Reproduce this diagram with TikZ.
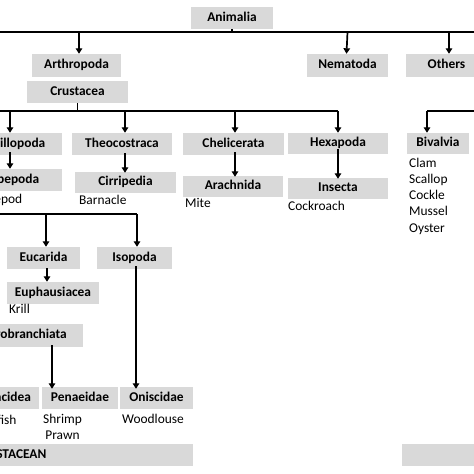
\documentclass[tikz,border=0pt]{standalone}
\usepackage{fontspec}
\setmainfont{Carlito}
\usetikzlibrary{arrows.meta}
\definecolor{boxgray}{HTML}{D9D9D9}
\begin{document}
\begin{tikzpicture}[x=1pt,y=-1pt,
  box/.style={fill=boxgray,inner sep=0pt,font=\fontsize{13.4}{16}\selectfont\bfseries,
    text height=9.5pt,text depth=3pt},
  lbl/.style={inner sep=0pt,anchor=west,font=\fontsize{13.4}{16.2}\selectfont,
    text height=9.5pt,text depth=3pt},
  conn/.style={line width=1.7pt},
  arr/.style={line width=1.7pt,-{Triangle[length=5.5pt,width=6.5pt]}}]
\path[use as bounding box] (0,0) rectangle (474,474);
\clip (0,0) rectangle (474,474);
\fill[white] (0,0) rectangle (474,474);
% top level
\node[box,minimum width=82pt,minimum height=22pt] (anim) at (232,18) {Animalia};
\node[box,minimum width=89pt,minimum height=23pt] (arth) at (76.5,65.5) {Arthropoda};
\node[box,minimum width=101pt,minimum height=22pt] (crus) at (77.5,92) {Crustacea};
\node[box,minimum width=81pt,minimum height=23pt] (nema) at (347.5,65.5) {Nematoda};
\node[box,minimum width=81pt,minimum height=23pt] (oth) at (446.5,65.5) {Others};
% crustacea level
\node[box,minimum width=103pt,minimum height=22pt] (maxi) at (10.5,144) {Maxillopoda};
\node[box,minimum width=102pt,minimum height=22pt] (cope) at (11,180) {Copepoda};
\node[box,minimum width=100pt,minimum height=22pt] (theo) at (122,144) {Theocostraca};
\node[box,minimum width=101pt,minimum height=21pt] (cirr) at (125.5,182.5) {Cirripedia};
\node[box,minimum width=101pt,minimum height=22pt] (chel) at (233.5,144) {Chelicerata};
\node[box,minimum width=100pt,minimum height=21pt] (arac) at (233,186.5) {Arachnida};
\node[box,minimum width=100pt,minimum height=21pt] (hexa) at (338,143.5) {Hexapoda};
\node[box,minimum width=100pt,minimum height=21pt] (inse) at (338,188.5) {Insecta};
\node[box,minimum width=62pt,minimum height=21pt] (biva) at (438,143.5) {Bivalvia};
% lower crustacea
\node[box,minimum width=73pt,minimum height=22pt] (euca) at (43.5,258) {Eucarida};
\node[box,minimum width=75pt,minimum height=22pt] (isop) at (134.5,258) {Isopoda};
\node[box,minimum width=92pt,minimum height=22pt] (euph) at (53,293) {Euphausiacea};
\node[box,minimum width=133pt,minimum height=23pt] (dend) at (16.5,335.5) {Dendrobranchiata};
\node[box,minimum width=70pt,minimum height=22pt] (asta) at (4,398) {Astacidea};
\node[box,minimum width=76pt,minimum height=22pt] (pena) at (80,398) {Penaeidae};
\node[box,minimum width=73pt,minimum height=22pt] (onis) at (156.5,398) {Oniscidae};
% banners
\fill[boxgray] (-60,444) rectangle (193,466);
\node[box,anchor=west,fill=none] (crtext) at (-27,455) {CRUSTACEAN};
\fill[boxgray] (402,444) rectangle (520,466);
% labels
\node[lbl] (l1) at (-27,200) {Copepod};
\node[lbl] (l2) at (79,201) {Barnacle};
\node[lbl] (l3) at (185,204) {Mite};
\node[lbl] (l4) at (288,207) {Cockroach};
\node[lbl] (l5a) at (409,164) {Clam};
\node[lbl] (l5b) at (409,180.2) {Scallop};
\node[lbl] (l5c) at (409,196.4) {Cockle};
\node[lbl] (l5d) at (409,212.6) {Mussel};
\node[lbl] (l5e) at (409,228.8) {Oyster};
\node[lbl] (l6) at (9,310) {Krill};
\node[lbl] (l7) at (-27,421) {Crayfish};
\node[lbl,anchor=center] (l8a) at (62.5,420) {Shrimp};
\node[lbl,anchor=center] (l8b) at (62.5,436.5) {Prawn};
\node[lbl] (l9) at (122,420) {Woodlouse};
% bars
\coordinate (b1L) at (-20,32);
\coordinate (b1R) at (500,32);
\coordinate (b2L) at (-20,111);
\coordinate (b2R) at (338,111);
\coordinate (b3L) at (427,111);
\coordinate (b3R) at (500,111);
\coordinate (b4L) at (-20,214);
\coordinate (b4R) at (137,214);
\draw[conn] (b1L) -- (b1R);
\draw[conn] (anim.south) -- (anim.south |- b1L);
\draw[arr] ([xshift=2.5pt]arth.north |- b1L) -- ([xshift=2.5pt]arth.north);
\draw[arr] (nema.north |- b1L) -- ([xshift=-1pt]nema.north);
\draw[arr] ([xshift=2.5pt]oth.north |- b1L) -- ([xshift=2.5pt]oth.north);
\draw[conn] (crus.south) -- (crus.south |- b2L);
\draw[conn] (b2L) -- (b2R);
\draw[arr] ([xshift=-0.5pt]maxi.north |- b2L) -- ([xshift=-0.5pt]maxi.north);
\draw[arr] ([xshift=3pt]theo.north |- b2L) -- ([xshift=3pt]theo.north);
\draw[arr] ([xshift=1.5pt]chel.north |- b2L) -- ([xshift=1.5pt]chel.north);
\draw[arr] (hexa.north |- b2L) -- (hexa.north);
\draw[conn] (b3R) -- (b3L);
\draw[arr] (b3L) -- (b3L |- biva.north);
\draw[arr] ([xshift=-0.5pt,yshift=3pt]maxi.south) -- ([xshift=-1pt]cope.north);
\draw[arr] ([xshift=3pt,yshift=2pt]theo.south) -- ([xshift=-0.5pt,yshift=-1pt]cirr.north);
\draw[arr] ([xshift=1.5pt,yshift=3pt]chel.south) -- ([xshift=2pt,yshift=-1pt]arac.north);
\draw[arr] ([yshift=5pt]hexa.south) -- ([yshift=-1pt]inse.north);
\draw[conn] (b4L) -- (b4R);
\draw[arr] ([xshift=2.5pt]euca.north |- b4L) -- ([xshift=2.5pt]euca.north);
\draw[arr] (b4R) -- (b4R |- isop.north);
\draw[arr] ([xshift=3.5pt,yshift=1pt]euca.south) -- ([xshift=-6pt]euph.north);
\draw[arr] ([xshift=35.5pt,yshift=2pt]dend.south) -- ([xshift=-28pt,yshift=-2pt]pena.north);
\draw[arr] ([xshift=1.5pt,yshift=3pt]isop.south) -- ([xshift=-20.5pt,yshift=-2pt]onis.north);
\end{tikzpicture}
\end{document}
